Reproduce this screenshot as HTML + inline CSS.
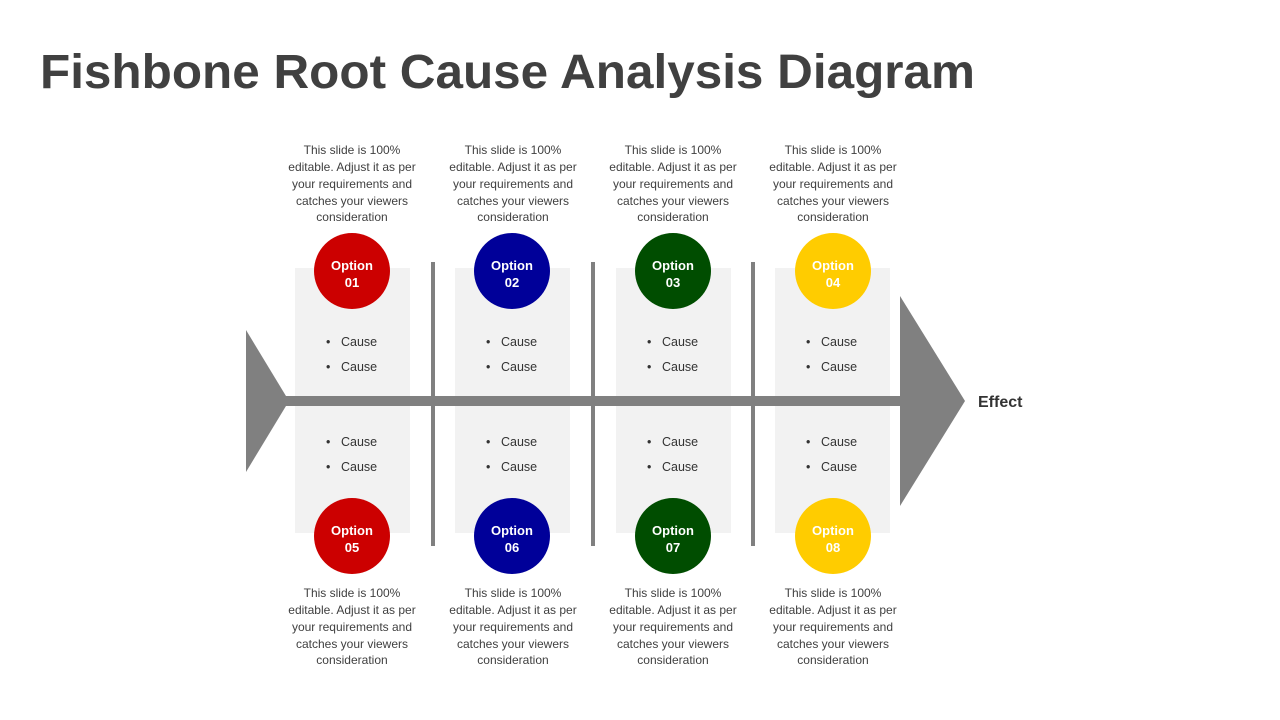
<!DOCTYPE html>
<html><head><meta charset="utf-8"><style>
html,body{margin:0;padding:0;background:#fff;}
svg{display:block;}
text{font-family:"Liberation Sans",sans-serif;}
</style></head><body>
<svg width="1280" height="720" viewBox="0 0 1280 720" xmlns="http://www.w3.org/2000/svg">
<text x="40" y="88" font-size="48" font-weight="bold" fill="#404040" textLength="935" lengthAdjust="spacingAndGlyphs">Fishbone Root Cause Analysis Diagram</text>

<g fill="#F2F2F2">
<rect x="295" y="268" width="115" height="265"/>
<rect x="455" y="268" width="115" height="265"/>
<rect x="616" y="268" width="115" height="265"/>
<rect x="775" y="268" width="115" height="265"/>
</g>
<g fill="#808080">
<rect x="431" y="262" width="4" height="284"/>
<rect x="591" y="262" width="4" height="284"/>
<rect x="751" y="262" width="4" height="284"/>
<rect x="284" y="396" width="620" height="10"/>
<polygon points="246,330 289,401 246,472"/>
<polygon points="900,296 965,401 900,506"/>
</g>
<text x="978" y="407" font-size="16" font-weight="bold" fill="#333">Effect</text>

<g font-size="12.5" fill="#333">
<g id="c1">
<text x="326" y="346">•</text><text x="341" y="346">Cause</text>
<text x="326" y="371">•</text><text x="341" y="371">Cause</text>
<text x="326" y="446">•</text><text x="341" y="446">Cause</text>
<text x="326" y="471">•</text><text x="341" y="471">Cause</text>
</g>
<use href="#c1" x="160"/>
<use href="#c1" x="321"/>
<use href="#c1" x="480"/>
</g>

<g font-size="13" font-weight="bold" fill="#fff" text-anchor="middle">
<circle cx="352" cy="271" r="38" fill="#CC0000"/><text x="352" y="270">Option</text><text x="352" y="287">01</text>
<circle cx="512" cy="271" r="38" fill="#000099"/><text x="512" y="270">Option</text><text x="512" y="287">02</text>
<circle cx="673" cy="271" r="38" fill="#004D00"/><text x="673" y="270">Option</text><text x="673" y="287">03</text>
<circle cx="833" cy="271" r="38" fill="#FFCC00"/><text x="833" y="270">Option</text><text x="833" y="287">04</text>
<circle cx="352" cy="536" r="38" fill="#CC0000"/><text x="352" y="535">Option</text><text x="352" y="552">05</text>
<circle cx="512" cy="536" r="38" fill="#000099"/><text x="512" y="535">Option</text><text x="512" y="552">06</text>
<circle cx="673" cy="536" r="38" fill="#004D00"/><text x="673" y="535">Option</text><text x="673" y="552">07</text>
<circle cx="833" cy="536" r="38" fill="#FFCC00"/><text x="833" y="535">Option</text><text x="833" y="552">08</text>
</g>

<g font-size="12" fill="#404040" text-anchor="middle">
<g id="d1">
<text x="352" y="154">This slide is 100%</text>
<text x="352" y="171">editable. Adjust it as per</text>
<text x="352" y="188">your requirements and</text>
<text x="352" y="205">catches your viewers</text>
<text x="352" y="221">consideration</text>
</g>
<use href="#d1" x="161"/>
<use href="#d1" x="321"/>
<use href="#d1" x="481"/>
<use href="#d1" y="443"/>
<use href="#d1" x="161" y="443"/>
<use href="#d1" x="321" y="443"/>
<use href="#d1" x="481" y="443"/>
</g>
</svg>
</body></html>
